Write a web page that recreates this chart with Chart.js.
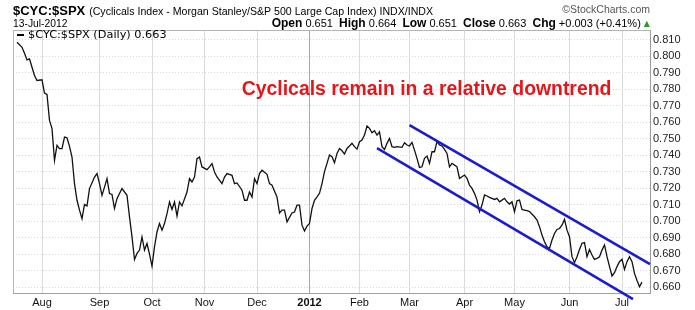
<!DOCTYPE html>
<html><head><meta charset="utf-8">
<script src="https://cdn.jsdelivr.net/npm/chart.js@4.4.1/dist/chart.umd.min.js"></script>
<style>html,body{margin:0;padding:0;background:#fff;}canvas{display:block;}</style>
</head><body>
<canvas id="c" width="695" height="310"></canvas>
<script>
// ---- data (x = trading-day index from 18-Jul-2011) ----
const tradingDay = [0,2,3,4,5,6,7,8,10,11,12,13,14,15,16,17,18,19,20,21,22,23,24,25,26,27,28,29,31,32,33,34,35,36,37,38,39,40,41,42,44,45,46,47,48,49,50,51,52,53,54,55,56,57,58,59,60,61,62,63,64,65,66,68,69,70,71,72,73,74,76,77,78,79,80,82,83,84,86,87,88,90,91,92,93,94,95,96,97,98,100,101,102,104,105,106,107,108,110,111,112,113,114,115,116,117,118,119,120,121,122,123,124,125,126,127,128,129,130,131,132,133,134,135,136,137,138,139,140,141,142,143,144,145,146,147,148,149,150,151,152,154,155,156,157,158,159,160,161,162,163,164,165,166,167,168,169,170,171,172,173,174,175,176,177,178,179,180,181,182,183,184,185,186,187,188,189,191,192,193,194,195,196,197,198,199,200,201,202,203,204,205,207,208,209,210,211,212,213,214,215,216,217,218,219,220,221,222,223,224,225,226,227,228,229,230,231,232,233,234,235,236,237,238,239,240,241,242,243,244,245,246,247,248,249,250];
const ratio = [0.8084,0.8053,0.8017,0.7977,0.7983,0.7932,0.7882,0.7852,0.7856,0.7775,0.7767,0.7610,0.7560,0.7368,0.7459,0.7439,0.7439,0.7509,0.7505,0.7453,0.7388,0.7227,0.7126,0.7066,0.7015,0.7100,0.7092,0.7197,0.7267,0.7288,0.7227,0.7156,0.7206,0.7257,0.7167,0.7161,0.7076,0.7136,0.7167,0.7197,0.7156,0.7025,0.6904,0.6767,0.6804,0.6824,0.6904,0.6824,0.6864,0.6799,0.6727,0.6844,0.6934,0.6985,0.6945,0.6985,0.7045,0.7116,0.7070,0.7116,0.7031,0.7116,0.7092,0.7176,0.7257,0.7237,0.7267,0.7378,0.7388,0.7328,0.7312,0.7328,0.7348,0.7297,0.7267,0.7227,0.7267,0.7288,0.7277,0.7227,0.7231,0.7187,0.7126,0.7126,0.7176,0.7146,0.7257,0.7227,0.7288,0.7308,0.7283,0.7227,0.7217,0.7146,0.7049,0.7066,0.7066,0.6995,0.7049,0.7055,0.7096,0.7096,0.6975,0.6940,0.6969,0.6985,0.7076,0.7126,0.7146,0.7168,0.7227,0.7300,0.7350,0.7400,0.7390,0.7353,0.7410,0.7440,0.7426,0.7406,0.7440,0.7455,0.7471,0.7451,0.7436,0.7481,0.7491,0.7521,0.7576,0.7562,0.7535,0.7548,0.7521,0.7541,0.7451,0.7434,0.7471,0.7501,0.7451,0.7447,0.7451,0.7447,0.7475,0.7461,0.7455,0.7477,0.7430,0.7380,0.7325,0.7329,0.7380,0.7394,0.7350,0.7420,0.7420,0.7481,0.7461,0.7455,0.7434,0.7410,0.7329,0.7350,0.7339,0.7329,0.7259,0.7269,0.7279,0.7259,0.7218,0.7198,0.7168,0.7127,0.7057,0.7097,0.7158,0.7152,0.7144,0.7131,0.7138,0.7117,0.7127,0.7138,0.7117,0.7103,0.7117,0.7057,0.7123,0.7127,0.7071,0.7067,0.7063,0.7057,0.7026,0.7006,0.6966,0.6915,0.6875,0.6844,0.6834,0.6885,0.6925,0.6949,0.6955,0.6975,0.7010,0.6945,0.6905,0.6784,0.6748,0.6784,0.6828,0.6865,0.6869,0.6784,0.6828,0.6794,0.6768,0.6774,0.6784,0.6824,0.6855,0.6784,0.6724,0.6667,0.6687,0.6724,0.6754,0.6768,0.6707,0.6754,0.6784,0.6754,0.6683,0.6640,0.6602,0.6630];

const monthTickDay = [10,33,54,75,96,117,137,157,179,199,221,242];
const monthTickLabel = ['Aug','Sep','Oct','Nov','Dec','2012','Feb','Mar','Apr','May','Jun','Jul'];
const ratioTicks = [0.660,0.670,0.680,0.690,0.700,0.710,0.720,0.730,0.740,0.750,0.760,0.770,0.780,0.790,0.800,0.810];

const upperTrendDay = [157, 253.2];
const upperTrendValue = [0.7582, 0.6739];
const lowerTrendDay = [144, 246.4];
const lowerTrendValue = [0.7442, 0.6527];

const titleSymbol = '$CYC:$SPX';
const titleName = '(Cyclicals Index - Morgan Stanley/S&P 500 Large Cap Index) INDX/INDX';
const dateText = '13-Jul-2012';
const copyrightText = '\u00A9StockCharts.com';
const quoteParts = [['Open',1],[' 0.651  ',0],['High',1],[' 0.664  ',0],['Low',1],[' 0.651  ',0],['Close',1],[' 0.663  ',0],['Chg',1],[' +0.003 (+0.41%) ',0]];
const legendText = '$CYC:$SPX (Daily) 0.663';
const annotationText = 'Cyclicals remain in a relative downtrend';
const annotationDay = 89.9;
const annotationValue = 0.7794;

const FONT = '"Liberation Sans", Arial, sans-serif';

const overlay = {
  id: 'overlay',
  beforeDatasetsDraw(chart) {
    const ctx = chart.ctx, a = chart.chartArea;
    ctx.save();
    ctx.strokeStyle = '#b4b4b4';
    ctx.lineWidth = 1;
    ctx.beginPath();
    ctx.moveTo(a.left + 0.5, a.bottom);
    ctx.lineTo(a.left + 0.5, a.top + 0.5);
    ctx.lineTo(a.right, a.top + 0.5);
    ctx.stroke();
    ctx.restore();
  },
  afterDraw(chart) {
    const ctx = chart.ctx, a = chart.chartArea;
    ctx.save();
    ctx.textBaseline = 'alphabetic';
    ctx.textAlign = 'left';
    // title line
    ctx.fillStyle = '#000';
    ctx.font = 'bold 13px ' + FONT;
    ctx.fillText(titleSymbol, a.left, 14.5);
    const tw = ctx.measureText(titleSymbol).width;
    ctx.font = '10.6px ' + FONT;
    ctx.fillText(' ' + titleName, a.left + tw + 1, 14.5);
    // copyright
    ctx.fillStyle = '#555';
    ctx.font = '10.5px ' + FONT;
    ctx.textAlign = 'right';
    ctx.fillText(copyrightText, a.right, 13);
    ctx.textAlign = 'left';
    // date
    ctx.fillStyle = '#000';
    ctx.font = '10.3px ' + FONT;
    ctx.fillText(dateText, a.left, 27);
    // quote line, right aligned to the plot edge
    const bold = 'bold 12px ' + FONT, norm = '11px ' + FONT;
    let total = 0;
    for (const [t, b] of quoteParts) { ctx.font = b ? bold : norm; total += ctx.measureText(t).width; }
    ctx.font = '8px "DejaVu Sans", sans-serif';
    const triW = ctx.measureText('\u25B2').width;
    let x = a.right - triW - total;
    for (const [t, b] of quoteParts) {
      ctx.font = b ? bold : norm;
      ctx.fillText(t, x, 27);
      x += ctx.measureText(t).width;
    }
    ctx.fillStyle = '#2c9a2c';
    ctx.font = '8px "DejaVu Sans", sans-serif';
    ctx.fillText('\u25B2', x, 26);
    // legend inside plot
    ctx.fillStyle = '#000';
    ctx.fillRect(a.left + 4, a.top + 4, 7, 2);
    ctx.font = '11.3px "DejaVu Sans", sans-serif';
    ctx.textBaseline = 'middle';
    ctx.fillText(legendText, a.left + 15, a.top + 5.5);
    // annotation
    const sx = chart.scales.x, sy = chart.scales.y;
    ctx.fillStyle = '#e3161b';
    ctx.font = 'bold 19.4px ' + FONT;
    ctx.fillText(annotationText, sx.getPixelForValue(annotationDay), sy.getPixelForValue(annotationValue));
    ctx.restore();
  }
};

const pts = (xs, ys) => xs.map((x, i) => ({x: x, y: ys[i]}));

new Chart(document.getElementById('c'), {
  type: 'line',
  data: {
    datasets: [
      { data: pts(tradingDay, ratio), borderColor: '#111', borderWidth: 1.3, pointRadius: 0, tension: 0, order: 2 },
      { data: pts(upperTrendDay, upperTrendValue), borderColor: '#1c1ccf', borderWidth: 2.6, pointRadius: 0, clip: false, order: 1 },
      { data: pts(lowerTrendDay, lowerTrendValue), borderColor: '#1c1ccf', borderWidth: 2.6, pointRadius: 0, clip: false, order: 1 }
    ]
  },
  options: {
    responsive: false,
    animation: false,
    devicePixelRatio: 1,
    layout: { padding: { left: 13, top: 30, right: 0, bottom: 0 } },
    plugins: { legend: { display: false }, tooltip: { enabled: false } },
    scales: {
      x: {
        type: 'linear', min: -1.6, max: 253.2,
        afterBuildTicks: s => { s.ticks = monthTickDay.map(v => ({value: v})); },
        afterFit: s => { s.height = 17; },
        ticks: {
          autoSkip: false, maxRotation: 0, padding: 3, color: '#111',
          callback: (v, i) => monthTickLabel[i],
          font: c => ({ family: FONT, size: 11, weight: monthTickLabel[c.index] === '2012' ? 'bold' : 'normal' })
        },
        grid: { drawTicks: false, color: c => (c.tick && c.tick.value === 117) ? '#a8a8a8' : '#dadada' },
        border: { color: '#a0a0a0' }
      },
      y: {
        position: 'right', min: 0.6564, max: 0.8158,
        afterBuildTicks: s => { s.ticks = ratioTicks.map(v => ({value: v})); },
        afterFit: s => { s.width = 45; },
        ticks: { padding: 3, color: '#222', font: { family: FONT, size: 11 }, callback: v => v.toFixed(3) },
        grid: { drawTicks: false, color: '#dadada' },
        border: { color: '#9a9a9a', dash: [1, 2] }
      }
    }
  },
  plugins: [overlay]
});
</script>
</body></html>
